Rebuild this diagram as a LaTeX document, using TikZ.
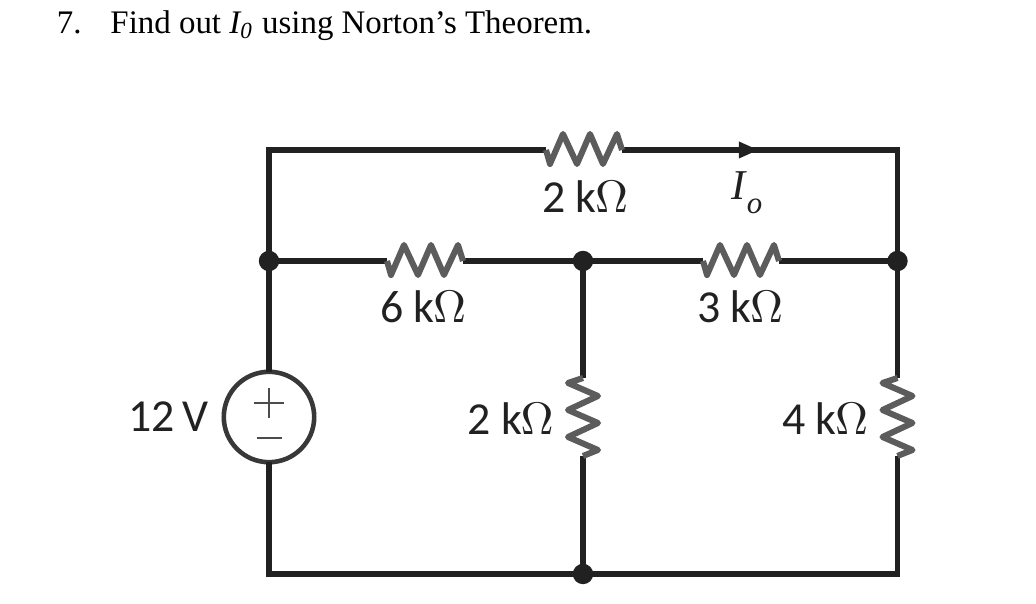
\documentclass[tikz,border=0pt]{standalone}
\usepackage{fontspec}
\setmainfont{Liberation Serif}
\newfontfamily\cktfont{Carlito}
\definecolor{wirec}{gray}{0.13}
\definecolor{resc}{gray}{0.36}
\newcommand{\kOhm}{k\kern-0.35pt\(\Omega\)}
\tikzset{
  wire/.style={line width=1.4pt,draw=wirec,line join=miter},
  res/.style={line width=1.45pt,draw=resc,line join=round},
  dot/.style={circle,fill=wirec,inner sep=0pt,minimum size=4.9pt,outer sep=0pt},
  lab/.style={inner sep=0pt,font=\cktfont\fontsize{11}{14}\selectfont,text=wirec},
}
\begin{document}
\begin{tikzpicture}[x=0.24pt,y=-0.24pt]
\useasboundingbox (0,0) rectangle (1036,604);
\node[inner sep=0pt,anchor=west,font=\fontsize{7.9}{10}\selectfont] (title) at (56,26) {7.\hspace{0.88em}Find out \textit{I\textsubscript{0}} using Norton’s Theorem.};
\coordinate (tl) at (269,150); \coordinate (tr) at (897.5,150);
\coordinate (bl) at (269,574); \coordinate (br) at (897.5,574);
\node[dot] (a) at (269,261) {};
\node[dot] (b) at (583,261) {};
\node[dot] (c) at (897.5,261) {};
\node[dot] (d) at (583,574) {};
\node[circle,draw=black!78,line width=1.1pt,minimum size=21.7pt,inner sep=0pt,outer sep=0pt] (src) at (269,417) {};
\coordinate (r1a) at (546,150); \coordinate (r1b) at (622,150);
\coordinate (r2a) at (387,261); \coordinate (r2b) at (463,261);
\coordinate (r3a) at (703,261); \coordinate (r3b) at (779,261);
\coordinate (r4a) at (583,378); \coordinate (r4b) at (583,456);
\coordinate (r5a) at (897.5,378); \coordinate (r5b) at (897.5,456);
\coordinate (arr) at (758,150);
\draw[wire] (src) -- (a.center) -- (tl) -- (r1a);
\draw[wire] (r1b) -- (tr) -- (c.center) -- (r5a);
\draw[wire] (r5b) -- (br) -- (d.center) -- (bl) -- (src);
\draw[wire] (a.center) -- (r2a); \draw[wire] (r2b) -- (b.center) -- (r3a); \draw[wire] (r3b) -- (c.center);
\draw[wire] (b.center) -- (r4a); \draw[wire] (r4b) -- (d.center);
\draw[res] (r1a) -- ++(4,14) -- ++(13,-30) -- ++(14,30) -- ++(13,-30) -- ++(13,30) -- ++(14,-30) -- (r1b);
\draw[res] (r2a) -- ++(4,14) -- ++(13,-30) -- ++(14,30) -- ++(13,-30) -- ++(13,30) -- ++(14,-30) -- (r2b);
\draw[res] (r3a) -- ++(4,14) -- ++(13,-30) -- ++(14,30) -- ++(13,-30) -- ++(13,30) -- ++(14,-30) -- (r3b);
\draw[res] (r4a) -- ++(-15,5) -- ++(30,13) -- ++(-30,14) -- ++(30,13) -- ++(-30,14) -- ++(30,13) -- (r4b);
\draw[res] (r5a) -- ++(-15,5) -- ++(30,13) -- ++(-30,14) -- ++(30,13) -- ++(-30,14) -- ++(30,13) -- (r5b);
\fill[wirec] (arr) -- ++(-19,-8.5) -- ++(0,17) -- cycle;
\node[lab] (l1) at (585,197) {2 \kOhm};
\node[lab] (l2) at (423,307) {6 \kOhm};
\node[lab] (l3) at (740,307) {3 \kOhm};
\node[lab] (l4) at (510.5,419) {2 \kOhm};
\node[lab] (l5) at (825,419) {4 \kOhm};
\node[lab] (l6) at (168.5,417) {12\kern-0.6pt\ V};
\node[inner sep=0pt,font=\fontsize{10.2}{11}\selectfont\itshape,text=wirec] (io) at (747,193) {I\kern0.2pt\raisebox{-3.4pt}{\fontsize{7.4}{8}\selectfont o}};
\coordinate (p) at (269,403);
\coordinate (m) at (269.5,438);
\draw[line width=0.55pt,draw=black!70] ([xshift=-3.6pt]p) -- ([xshift=3.6pt]p) ([yshift=-3.6pt]p) -- ([yshift=3.6pt]p);
\draw[line width=0.55pt,draw=black!70] ([xshift=-3pt]m) -- ([xshift=3pt]m);
\end{tikzpicture}
\end{document}
